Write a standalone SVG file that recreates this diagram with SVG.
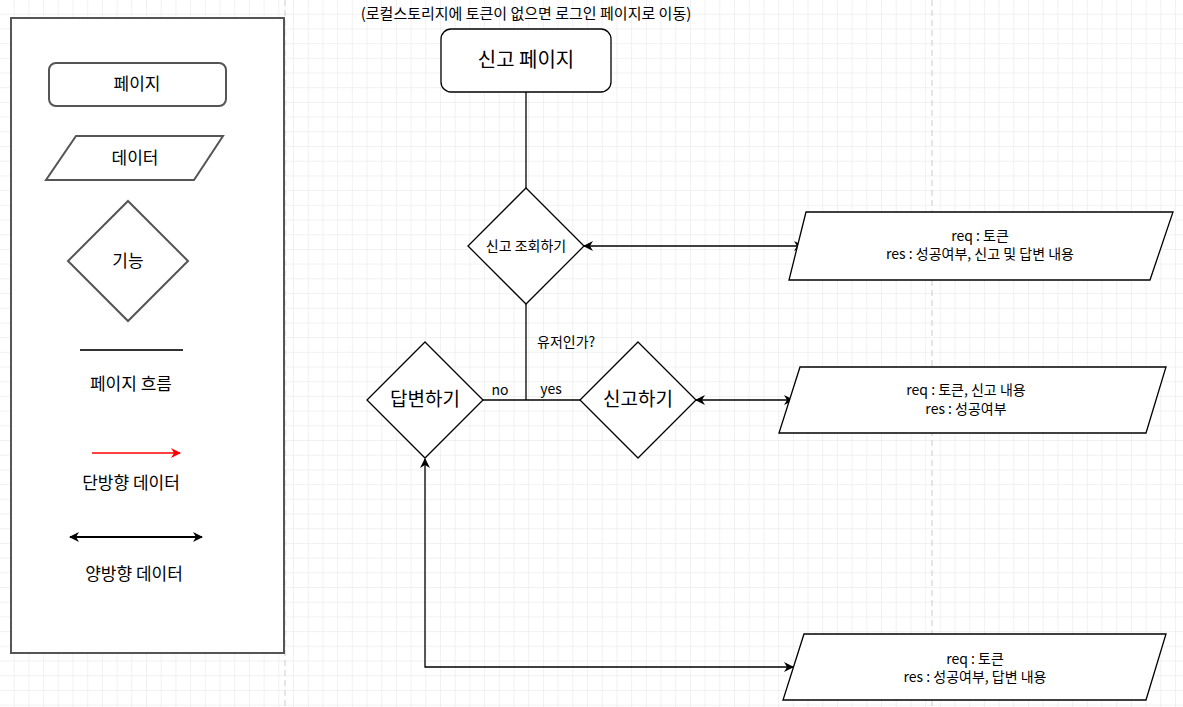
<svg xmlns="http://www.w3.org/2000/svg" width="1183" height="707" viewBox="0 0 1183 707">
<defs>
<pattern id="g" width="14.7" height="14.7" patternUnits="userSpaceOnUse"><path d="M14.7 0V14.7H0" fill="none" stroke="#e4e4e4" stroke-width="1"/></pattern>
<marker id="ab" viewBox="0 0 10 10" refX="9" refY="5" markerWidth="10" markerHeight="10" markerUnits="userSpaceOnUse" orient="auto-start-reverse"><path d="M0 0L10 5L0 10L3 5z" fill="#000"/></marker>
<marker id="ar" viewBox="0 0 10 10" refX="9" refY="5" markerWidth="10" markerHeight="10" markerUnits="userSpaceOnUse" orient="auto"><path d="M0 0L10 5L0 10L3 5z" fill="#f00"/></marker>
</defs>
<style>
text{font-family:"Noto Sans CJK KR","Noto Sans",sans-serif;fill:#000;text-anchor:middle}
.s{fill:#fff;stroke:#000;stroke-width:1.3}
.l{fill:#fff;stroke:#555;stroke-width:2}
.c{fill:none;stroke:#000;stroke-width:1.3}
</style>
<rect width="1183" height="707" fill="#fff"/>
<rect width="1183" height="707" fill="url(#g)"/>
<line x1="285" y1="0" x2="285" y2="707" stroke="#ccc" stroke-dasharray="6 4"/>
<line x1="932" y1="0" x2="932" y2="707" stroke="#ccc" stroke-dasharray="6 4"/>
<g id="legend">
<rect x="11" y="18" width="273" height="635" class="l"/>
<rect x="49" y="63" width="177" height="43" rx="7" class="l"/>
<text x="137" y="90" font-size="17">페이지</text>
<polygon points="76,136 223,136 194,180 46,180" class="l" stroke-width="1.5"/>
<text x="135" y="164" font-size="17">데이터</text>
<polygon points="128,201 188,261 128,321 68,261" class="l" stroke-width="1.5"/>
<text x="128" y="267" font-size="17">기능</text>
<line x1="80" y1="350" x2="183" y2="350" stroke="#333" stroke-width="2"/>
<text x="131" y="390" font-size="17">페이지 흐름</text>
<line x1="92" y1="453" x2="180" y2="453" stroke="#f00" stroke-width="1.3" marker-end="url(#ar)"/>
<text x="131" y="489" font-size="17">단방향 데이터</text>
<line x1="70" y1="537" x2="202" y2="537" stroke="#000" stroke-width="2" marker-start="url(#ab)" marker-end="url(#ab)"/>
<text x="134" y="580" font-size="17">양방향 데이터</text>
</g>
<text x="526" y="19" font-size="15">(로컬스토리지에 토큰이 없으면 로그인 페이지로 이동)</text>
<g id="connectors">
<line x1="526" y1="92" x2="526" y2="188" class="c"/>
<line x1="584" y1="246" x2="803" y2="246" class="c" marker-start="url(#ab)" marker-end="url(#ab)"/>
<line x1="526" y1="304" x2="526" y2="400" class="c"/>
<line x1="483" y1="400" x2="580" y2="400" class="c"/>
<text x="537" y="347" font-size="14" style="text-anchor:start">유저인가?</text>
<text x="500" y="395" font-size="14">no</text>
<text x="551" y="394" font-size="14">yes</text>
<line x1="696" y1="400" x2="793" y2="400" class="c" marker-start="url(#ab)" marker-end="url(#ab)"/>
<path d="M425 459V667H793" class="c" marker-start="url(#ab)" marker-end="url(#ab)"/>
</g>
<g id="page">
<rect x="441" y="29" width="170" height="63" rx="10" class="s"/>
<text x="526" y="67" font-size="20">신고 페이지</text>
</g>
<g id="view">
<polygon points="526,188 584,246 526,304 468,246" class="s"/>
<text x="526" y="251" font-size="14">신고 조회하기</text>
</g>
<g id="d1">
<polygon points="806,212 1173,212 1150,280 789,280" class="s"/>
<text x="980" y="241" font-size="14">req : 토큰</text>
<text x="980" y="259" font-size="14">res : 성공여부, 신고 및 답변 내용</text>
</g>
<g id="answer">
<polygon points="425,342 483,400 425,458 367,400" class="s"/>
<text x="425" y="406" font-size="19">답변하기</text>
</g>
<g id="report">
<polygon points="638,342 696,400 638,458 580,400" class="s"/>
<text x="638" y="406" font-size="19">신고하기</text>
</g>
<g id="d2">
<polygon points="800,367 1166,367 1146,433 779,433" class="s"/>
<text x="966" y="395" font-size="14">req : 토큰, 신고 내용</text>
<text x="966" y="414" font-size="14">res : 성공여부</text>
</g>
<g id="d3">
<polygon points="804,634 1166,634 1146,700 783,700" class="s"/>
<text x="975" y="664" font-size="14">req : 토큰</text>
<text x="975" y="682" font-size="14">res : 성공여부, 답변 내용</text>
</g>
</svg>
